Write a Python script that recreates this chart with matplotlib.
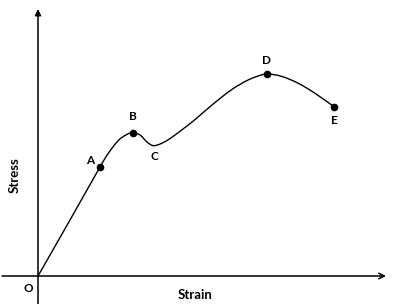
import matplotlib
matplotlib.use("Agg")
import matplotlib.pyplot as plt
from matplotlib.path import Path
from matplotlib.patches import PathPatch
import numpy as np

# Curve (strain, stress) in arbitrary units
strain = [0, 32, 62, 70.3, 80.3, 88.7, 94.7, 102, 108.7, 114.5, 120.3, 128.7,
          137, 145, 155.3, 168.7, 182, 195.3, 208.7, 218.7, 229.3, 243.7,
          260.3, 277, 296]
stress = [0, 56, 109, 122.7, 135.5, 141.5, 143.3, 141, 134.3, 130.5, 131.3, 135.3,
          141, 147, 155, 166.5, 177.5, 187.5, 195.3, 199.5, 202, 199.6,
          192.7, 182.7, 169.3]

point_names = ["A", "B", "C", "D", "E"]
point_strain = [62, 94.7, 115, 229.3, 296]
point_stress = [109, 143.3, 130, 202, 169.3]
marked = [True, True, False, True, True]
label_strain = [52, 95, 116, 229, 296]
label_stress = [116, 159, 119, 216, 156]

x_label = "Strain"
y_label = "Stress"
origin_label = "O"

fig = plt.figure(figsize=(4.14, 3.04), dpi=100)
ax = fig.add_axes([0, 0, 1, 1])
ax.set_xlim(-38, 376)
ax.set_ylim(-28, 276)
ax.axis("off")

font = dict(family=["Lato", "DejaVu Sans"], fontweight="bold", color="black")

# axes with arrows
ax.annotate("", xy=(348, 0), xytext=(-36, 0),
            arrowprops=dict(arrowstyle="->", lw=1.1, color="black",
                            mutation_scale=10, shrinkA=0, shrinkB=0))
ax.annotate("", xy=(0, 267), xytext=(0, -28),
            arrowprops=dict(arrowstyle="-|>", lw=1.1, color="black",
                            mutation_scale=9, shrinkA=0, shrinkB=0))

# smooth curve through the read points (Catmull-Rom as cubic Bezier path)
P = np.column_stack([strain, stress]).astype(float)
verts = [P[0]]
codes = [Path.MOVETO]
n = len(P)
for i in range(n - 1):
    p0 = P[i - 1] if i > 0 else P[i]
    p1 = P[i]
    p2 = P[i + 1]
    p3 = P[i + 2] if i + 2 < n else P[i + 1]
    c1 = p1 + (p2 - p0) / 6.0
    c2 = p2 - (p3 - p1) / 6.0
    verts += [c1, c2, p2]
    codes += [Path.CURVE4] * 3
ax.add_patch(PathPatch(Path(verts, codes), facecolor="none",
                       edgecolor="black", lw=1.0, capstyle="round",
                       joinstyle="round"))

for n_, xs, ys, m, lx, ly in zip(point_names, point_strain, point_stress,
                                 marked, label_strain, label_stress):
    if m:
        ax.plot([xs], [ys], "o", color="black", markersize=4.5)
    ax.text(lx, ly, n_, ha="center", va="center", fontsize=8.5, **font)

ax.text(157, -19, x_label, ha="center", va="center", fontsize=9.5, **font)
ax.text(-23, 101, y_label, ha="center", va="center", fontsize=9.5,
        rotation=90, **font)
ax.text(-10, -12, origin_label, ha="center", va="center", fontsize=8.5, **font)

fig.savefig("out.png", dpi=100)
